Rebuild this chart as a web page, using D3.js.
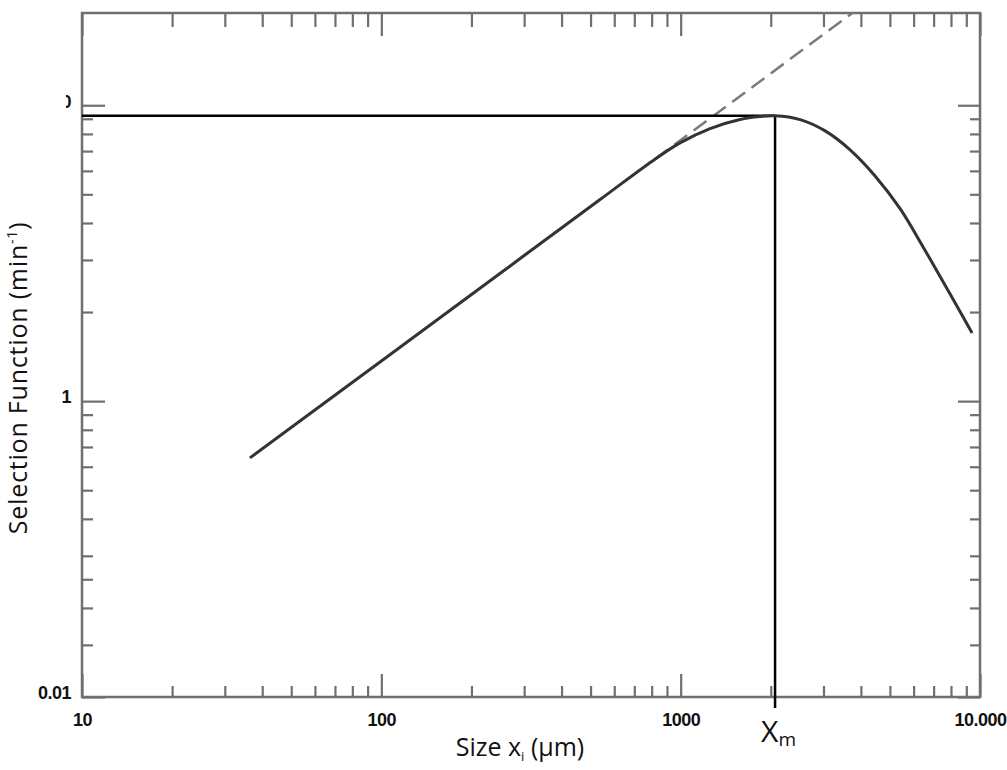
<!DOCTYPE html>
<html>
<head>
<meta charset="utf-8">
<script src="https://cdn.jsdelivr.net/npm/d3@7"></script>
<style>
  body { margin: 0; background: #fff; }
  .tick text { font-family: "Liberation Sans", Arial, sans-serif; font-weight: bold; font-size: 18px; fill: #111; letter-spacing: -0.5px; }
  .title { font-family: "Open Sans", sans-serif; fill: #111; }
</style>
</head>
<body>
<script>
// axis ticks
var xMajor = [10, 100, 1000, 10000];
var xMajorLabels = ["10", "100", "1000", "10.000"];
var yMajor = [0.1, 1, 10];
var yMajorLabels = ["0.01", "1", "10"];
var yMinor = [0.15, 0.2, 0.25, 0.3, 0.4, 0.5, 0.6, 0.7, 0.8, 0.9,
              2, 3, 4, 5, 6, 7, 8, 9];

// selection function curve
var sizeVals = [36.4, 99.8, 249, 538, 803, 995, 1254, 1579, 1842, 2067, 2506, 3038, 3681, 4462, 5408, 6455, 7945, 9410];
var selVals  = [0.643, 1.364, 2.70, 4.80, 6.47, 7.46, 8.34, 8.95, 9.16, 9.21, 8.94, 8.19, 7.07, 5.77, 4.47, 3.32, 2.30, 1.70];

// dashed extension of the straight part
var dashSize = [821, 4295];
var dashSel  = [6.58, 22.7];

// maximum
var xm = 2067, sm = 9.21;

var width = 1007, height = 770;

var svg = d3.select("body")
    .append("svg")
    .attr("width", width)
    .attr("height", height)

var x = d3.scaleLog()
    .domain([10, 10000])
    .range([82, 980]);

var y = d3.scaleLog()
    .domain([0.1, 20.5])
    .range([697, 13]);

var xMinor = x.ticks().filter(function (d) { return xMajor.indexOf(d) < 0; });

var axisColor = "#6f6f6f";

//minor ticks
svg.append("g").attr("transform", "translate(0," + y(0.1) + ")")
    .call(d3.axisBottom(x).tickValues(xMinor).tickSize(-11).tickFormat(""));
svg.append("g").attr("transform", "translate(0," + y(20.5) + ")")
    .call(d3.axisTop(x).tickValues(xMinor).tickSize(-14).tickFormat(""));
svg.append("g").attr("transform", "translate(" + x(10) + ",0)")
    .call(d3.axisLeft(y).tickValues(yMinor).tickSize(-11).tickFormat(""));
svg.append("g").attr("transform", "translate(" + x(10000) + ",0)")
    .call(d3.axisRight(y).tickValues(yMinor).tickSize(-10).tickFormat(""));

//major ticks
svg.append("g").attr("transform", "translate(0," + y(0.1) + ")")
    .call(d3.axisBottom(x).tickValues(xMajor).tickSize(-23).tickPadding(16)
        .tickFormat(function (d, i) { return xMajorLabels[i]; }));
svg.append("g").attr("transform", "translate(0," + y(20.5) + ")")
    .call(d3.axisTop(x).tickValues(xMajor).tickSize(-23).tickFormat(""));
var yAxisG = svg.append("g").attr("transform", "translate(" + x(10) + ",0)")
    .call(d3.axisLeft(y).tickValues(yMajor).tickSize(-23).tickPadding(11)
        .tickFormat(function (d, i) { return yMajorLabels[i]; }));
svg.append("g").attr("transform", "translate(" + x(10000) + ",0)")
    .call(d3.axisRight(y).tickValues(yMajor).tickSize(-22).tickFormat(""));

svg.selectAll(".domain").remove();
svg.selectAll(".tick line").attr("stroke", axisColor).attr("stroke-width", 2.2);
yAxisG.selectAll(".tick text").attr("dy", "0.1em");

// top label is half hidden in the original
svg.append("clipPath").attr("id", "labelClip")
    .append("rect").attr("x", 66 - x(10)).attr("y", -30).attr("width", 40).attr("height", 60);
yAxisG.selectAll(".tick").filter(function (d) { return d === 10; })
    .select("text").attr("clip-path", "url(#labelClip)");

//frame
svg.append("rect")
    .attr("x", x(10))
    .attr("y", y(20.5))
    .attr("width", x(10000) - x(10))
    .attr("height", y(0.1) - y(20.5))
    .attr("fill", "none")
    .attr("stroke", axisColor)
    .attr("stroke-width", 2.5);

svg.append("clipPath").attr("id", "plotClip")
    .append("rect")
    .attr("x", x(10)).attr("y", y(20.5))
    .attr("width", x(10000) - x(10)).attr("height", y(0.1) - y(20.5));

// dashed line
var line = d3.line()
    .x(function (d) { return x(d[0]); })
    .y(function (d) { return y(d[1]); });

svg.append("path")
    .datum(d3.zip(dashSize, dashSel))
    .attr("d", line)
    .attr("fill", "none")
    .attr("stroke", "#7a7a7a")
    .attr("stroke-width", 2.5)
    .attr("stroke-dasharray", "16,8")
    .attr("clip-path", "url(#plotClip)");

// Xm lines
svg.append("line")
    .attr("x1", x(10)).attr("x2", x(xm))
    .attr("y1", y(sm)).attr("y2", y(sm))
    .attr("stroke", "#000").attr("stroke-width", 2.5);
svg.append("line")
    .attr("x1", x(xm)).attr("x2", x(xm))
    .attr("y1", y(sm)).attr("y2", y(0.1) + 11)
    .attr("stroke", "#000").attr("stroke-width", 2.5);

// curve
var curveLine = d3.line()
    .x(function (d) { return x(d[0]); })
    .y(function (d) { return y(d[1]); })
    .curve(d3.curveCatmullRom.alpha(0.5));

svg.append("path")
    .datum(d3.zip(sizeVals, selVals))
    .attr("d", curveLine)
    .attr("fill", "none")
    .attr("stroke", "#333")
    .attr("stroke-width", 3);

//titles
var xt = svg.append("text")
    .attr("class", "title")
    .attr("x", 520)
    .attr("y", 756)
    .attr("text-anchor", "middle")
    .attr("font-size", 25);
xt.append("tspan").text("Size x");
xt.append("tspan").attr("font-size", 13).attr("dy", 5).text("i");
xt.append("tspan").attr("dy", -5).text(" (μm)");

var yt = svg.append("text")
    .attr("class", "title")
    .attr("transform", "translate(27,378) rotate(-90)")
    .attr("text-anchor", "middle")
    .attr("font-size", 25)
    .attr("letter-spacing", "0.8px");
yt.append("tspan").text("Selection Function (min");
yt.append("tspan").attr("font-size", 14).attr("dy", -10).text("-1");
yt.append("tspan").attr("dy", 10).text(")");

var xmt = svg.append("text")
    .attr("class", "title")
    .attr("x", x(xm) - 14)
    .attr("y", 742)
    .attr("font-size", 30);
xmt.append("tspan").text("X");
xmt.append("tspan").attr("font-size", 19).attr("dy", 4).text("m");
</script>
</body>
</html>
